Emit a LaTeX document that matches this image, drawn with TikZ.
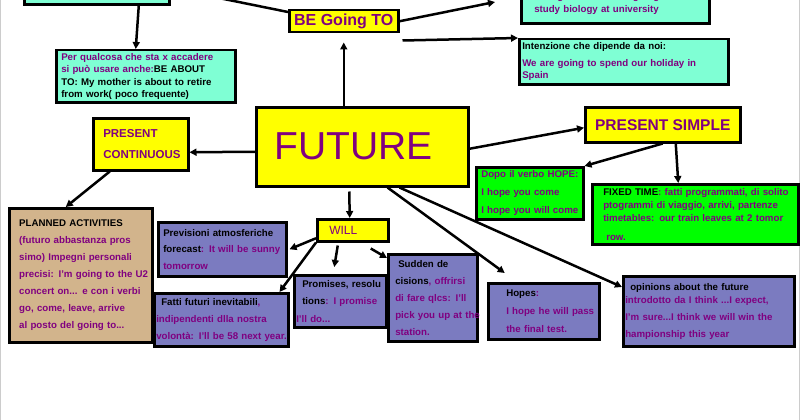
\documentclass[tikz,border=0pt]{standalone}
\usepackage{fontspec}
\setmainfont{Liberation Sans}
\usepackage{xcolor}
\usetikzlibrary{arrows.meta}
\definecolor{purp}{RGB}{128,0,128}
\definecolor{aqua}{RGB}{127,255,212}
\definecolor{yell}{RGB}{255,255,0}
\definecolor{greenbox}{RGB}{0,255,0}
\definecolor{lav}{RGB}{123,123,192}
\definecolor{tanbox}{RGB}{210,180,140}
\tikzset{
  lskip/.style={font=\fontsize{9.7}{#1}\selectfont\bfseries},
  card/.style={draw, line width=2.5pt, anchor=north west, inner ysep=2pt, align=left, lskip=12},
  head/.style={card, fill=yell, text=purp, inner sep=0pt}
}
\newcommand{\pu}[1]{\textcolor{purp}{#1}}
\newcommand{\drawcyan}{\node[card, fill=aqua]}
\newcommand{\drawgreen}{\node[card, fill=greenbox]}
\newcommand{\drawlav}{\node[card, fill=lav]}
\newcommand{\drawtan}{\node[card, fill=tanbox]}
\newcommand{\drawyell}{\node[head]}
\newcommand{\arr}{\draw[line width=2.5pt, ->]}

\begin{document}
\begin{tikzpicture}[x=1pt, y=-1pt, >={Triangle[length=7pt,width=7pt]}]
\useasboundingbox (0,0) rectangle (800,420);
\clip (0,0) rectangle (800,420);
\draw[gray!40, line width=1pt] (0.5,0) -- (0.5,420) (799.5,0) -- (799.5,420);

%centre and yellow headings
\drawyell[minimum width=212pt, minimum height=79pt, font=\fontsize{39}{39}\selectfont] (future) at (255,106) {FUTURE\hspace*{17pt}};
\drawyell[minimum width=109pt, minimum height=22pt, font=\fontsize{16}{16}\selectfont\bfseries] (bgt) at (288,9) {BE Going TO};
\drawyell[minimum width=155pt, minimum height=35pt, font=\fontsize{15.5}{16}\selectfont\bfseries] (pressimple) at (584,106) {PRESENT SIMPLE};
\drawyell[minimum height=52pt, text width=81pt, inner xsep=7pt, font=\fontsize{11.5}{21}\selectfont\bfseries] (prescont) at (92,117) {\hspace*{3pt}PRESENT\\\hspace*{3pt}CONTINUOUS};
\drawyell[minimum height=22pt, text width=47pt, inner xsep=12pt, font=\fontsize{12}{12}\selectfont] (will) at (316,218) {WILL};

%be going to
\drawcyan[anchor=south west, text width=135pt, inner xsep=5pt, inner ysep=1pt] (evid) at (23,6) {\raisebox{5pt}{\pu{it's going to rain}}};
\drawcyan[minimum height=52pt, text width=169pt, inner xsep=5pt, lskip=12.5] (qualcosa) at (55,49)
  {\pu{Per qualcosa che sta x accadere}\\\pu{si può usare anche:}BE ABOUT\\TO: My mother is about to retire\\from work( poco frequente)};
\drawcyan[anchor=south west, text width=162pt, inner xsep=13pt, inner ysep=9pt, lskip=13] (toplong) at (520,25)
  {\pu{a lungo termine: I'm going to}\\\pu{study biology at university}};
\drawcyan[minimum height=45pt, text width=203pt, inner xsep=3pt] (intenzione) at (518,38)
  {Intenzione che dipende da noi:\\[5pt]\pu{We are going to spend our holiday in}\\\pu{Spain}};

%present continuous
\drawtan[minimum height=134pt, text width=123pt, inner xsep=10pt, lskip=17] (planned) at (8,207)
  {PLANNED ACTIVITIES\\\pu{(futuro abbastanza pros}\\\pu{simo) Impegni personali}\\\mbox{\pu{precisi: I'm going to the U2}}\\\pu{concert on... e con i verbi}\\\pu{go, come, leave, arrive}\\\pu{al posto del going to...}};

%present simple
\drawgreen[minimum height=52pt, text width=97pt, inner xsep=5pt, lskip=18] (hope) at (475,166)
  {\mbox{\pu{Dopo il verbo HOPE:}}\\\pu{I hope you come}\\\mbox{\pu{I hope you will come}}};
\drawgreen[minimum height=60pt, text width=184pt, inner xsep=11pt, lskip=13] (fixed) at (591,183)
  {\mbox{FIXED TIME\pu{: fatti programmati, di solito}}\\\mbox{\pu{ptogrammi di viaggio, arrivi, partenze}}\\\mbox{\pu{timetables: our train leaves at 2 tomor}}\\[6pt]\pu{\hspace*{3pt}row.}};

%will
\drawlav[minimum height=54pt, text width=118pt, inner xsep=5pt, lskip=16.5] (previsioni) at (157,221)
  {Previsioni atmosferiche\\\mbox{forecast\pu{: It will be sunny}}\\\pu{tomorrow}};
\drawlav[minimum height=53pt, text width=130pt, inner xsep=2pt, lskip=17] (fatti) at (153,292)
  {\hspace*{5pt}Fatti futuri inevitabili\pu{,}\\\pu{indipendenti dlla nostra}\\\mbox{\pu{volontà: I'll be 58 next year.}}};
\drawlav[minimum height=52pt, text width=88pt, inner xsep=2pt, lskip=17.5] (promises) at (293,274)
  {\mbox{\hspace*{6pt}Promises, resolu}\\\hspace*{6pt}tions\pu{: I promise}\\\pu{I'll do...}};
\drawlav[minimum height=87pt, text width=75pt, inner xsep=7pt, lskip=17] (sudden) at (387,253)
  {\hspace*{3pt}Sudden de\\cisions\pu{, offrirsi}\\\pu{di fare qlcs: I'll}\\\mbox{\pu{pick you up at the}}\\\pu{station.}};
\drawlav[minimum height=56pt, text width=75pt, inner xsep=18pt, lskip=18] (hopes) at (487,282)
  {Hopes\pu{:}\\\mbox{\pu{I hope he will pass}}\\\pu{the final test.}};
\drawlav[minimum height=70pt, text width=167pt, inner xsep=2pt, lskip=17] (opinions) at (622,275)
  {\hspace*{5pt}opinions about the future\\[-4pt]\mbox{\pu{introdotto da I think ...I expect,}}\\\mbox{\pu{I'm sure...I think we will win the}}\\\pu{hampionship this year}};

%arrows
\arr (future.north -| bgt.south) to ([yshift=-9pt]bgt.south);
\arr ([yshift=-3pt]bgt.north west) to ([xshift=4pt,yshift=17pt]evid.south east);
\arr ([xshift=42pt]evid.south) to ([xshift=-10pt]qualcosa.north);
\arr (bgt.east) to ([xshift=-25pt,yshift=23pt]toplong.south west);
\arr ([xshift=3pt,yshift=-7pt]bgt.south east) to (intenzione.north west);

\arr ([yshift=-5pt]future.west) to ([yshift=-8pt]prescont.east);
\arr ([xshift=-31pt]prescont.south) to ([xshift=-15pt]planned.north);

\arr ([yshift=-2pt]future.east) to ([yshift=-3pt]pressimple.west);
\arr (pressimple.south) to (hope.north east);
\arr ([xshift=13pt]pressimple.south) to ([xshift=-17pt]fixed.north);

\arr ([xshift=-13pt,yshift=-4pt]future.south) to ([xshift=-3pt]will.north);
\arr ([yshift=-8pt]will.west) to ([xshift=2pt]previsioni.east);
\arr (will.south west) to ([xshift=-10pt]fatti.north east);
\arr ([xshift=-15pt,yshift=-3pt]will.south) to ([xshift=-6pt,yshift=7pt]promises.north);
\arr ([xshift=18pt,yshift=-6pt]will.south) to ([yshift=-5pt]sudden.north west);
\arr ([xshift=-82pt]future.south east) to ([xshift=-39pt,yshift=9pt]hopes.north);
\arr ([xshift=-70pt]future.south east) to ([yshift=-12pt]opinions.north west);
\end{tikzpicture}
\end{document}
